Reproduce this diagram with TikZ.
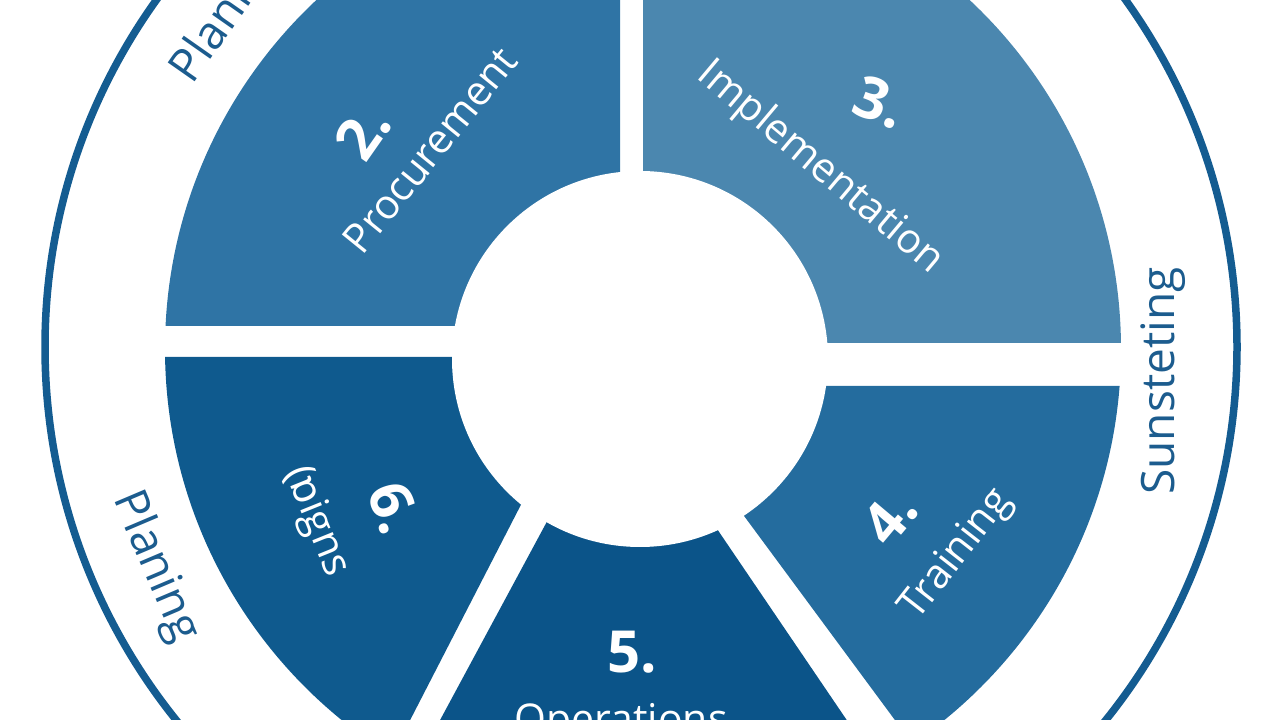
\documentclass[tikz,border=0pt]{standalone}
\usepackage{fontspec}
\setmainfont{Open Sans}
\newfontfamily\ipafont{Noto Sans}
\definecolor{segtwo}{RGB}{47,116,165}
\definecolor{segthree}{RGB}{75,135,175}
\definecolor{segfour}{RGB}{36,108,158}
\definecolor{segfive}{RGB}{11,84,137}
\definecolor{segsix}{RGB}{15,90,142}
\definecolor{ringcol}{RGB}{20,92,145}
\definecolor{ringtext}{RGB}{28,92,142}
\tikzset{
  numlabel/.style={text=white, inner sep=0pt, font=\fontsize{58}{64}\selectfont\bfseries},
  seglabel/.style={text=white, inner sep=0pt, font=\fontsize{41}{48}\selectfont},
  ringlabel/.style={text=ringtext, inner sep=0pt, font=\fontsize{46}{54}\selectfont},
  ringline/.style={draw=ringcol, line width=7.5pt}
}
\begin{document}
\begin{tikzpicture}[x=1pt,y=1pt]
\useasboundingbox (0,0) rectangle (1280,720);
\clip (0,0) rectangle (1280,720);
% segments
\begin{scope}
  \clip (-10,394) rectangle (620,800);
  \fill[segtwo] (643,371) circle[radius=478];
\end{scope}
\begin{scope}
  \clip (643,377) rectangle (1300,800);
  \fill[segthree] (643,371) circle[radius=478];
\end{scope}
\begin{scope}
  \clip (-10,363) -- (597,363) -- (369,-80) -- (-10,-80) -- cycle;
  \fill[segsix] (643,371) circle[radius=478];
\end{scope}
\begin{scope}
  \clip (620,334) -- (901,-80) -- (397,-80) -- cycle;
  \fill[segfive] (643,371) circle[radius=478];
\end{scope}
\begin{scope}
  \clip (648,334) -- (1300,334) -- (1300,-80) -- (954,-80) -- cycle;
  \fill[segfour] (643,371) circle[radius=478];
\end{scope}
% inner white circle
\fill[white] (640,361) circle[radius=188];
% outer ring
\draw[ringline] (641,373) circle[radius=596];
% segment texts
\node[numlabel, rotate=55] (n2) at (363,588) {2.};
\node[seglabel, rotate=51] (l2) at (430,570) {Procurement};
\node[numlabel, rotate=-20] (n3) at (880,618) {3.};
\node[seglabel, rotate=-40] (l3) at (820,552) {Implementation};
\node[numlabel, rotate=50] (n4) at (890,203) {4.};
\node[seglabel, rotate=52] (l4) at (957,165) {Training};
\node[numlabel] (n5) at (632,68) {5.};
\node[seglabel, anchor=north] (l5) at (621,17) {Operations};
\node[numlabel, rotate=-70] (n6) at (394,212) {6.};
\node[seglabel, rotate=-68] (l6) at (316,198) {(\ipafont ɒ\normalfont igns};
% ring texts
\node[ringlabel, rotate=90] (rr) at (1163,339) {Sunsteting};
\node[ringlabel, rotate=-67] (rl) at (155,153) {Planing};
\node[ringlabel, rotate=55, anchor=west] (rt) at (183,641) {Planning};
\end{tikzpicture}
\end{document}
